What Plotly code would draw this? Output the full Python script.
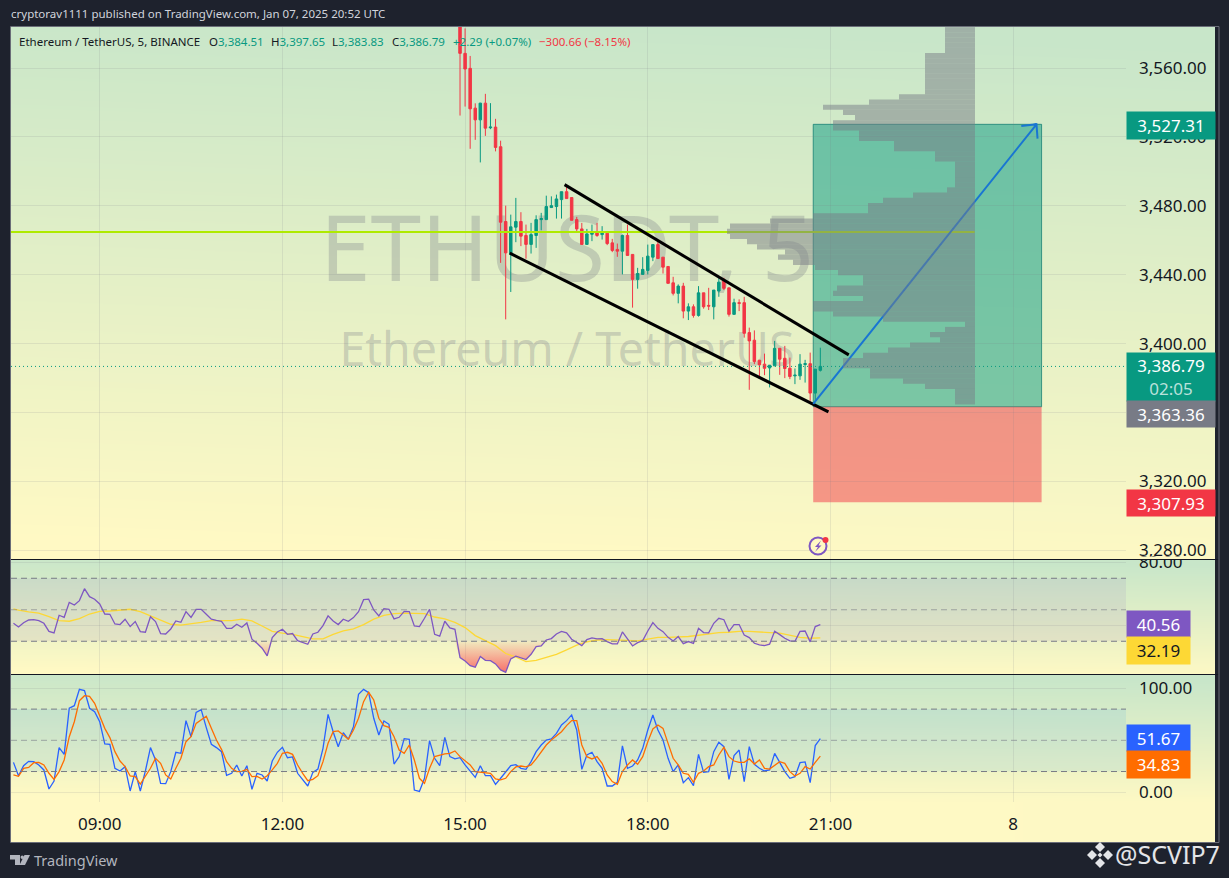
import numpy as np
import pandas as pd
import plotly.graph_objects as go

W, H = 1229, 878
GREEN, RED = "#089981", "#F23645"
FONT = "Noto Sans"

# 5 minute bars, 07:35 to 20:50
times = pd.date_range("2025-01-07 07:35", periods=160, freq="5min")
candle_times = times[88:]

opens = [3590, 3568.5, 3559.8, 3536.7, 3529.9, 3539.6, 3525.3, 3525.7, 3514.3, 3470.9, 3452.1, 3467.6,
         3470.9, 3462.8, 3457.6, 3462.8, 3472, 3472, 3479, 3479.6, 3483.6, 3488.2, 3484.8, 3472,
         3466.6, 3457.6, 3463.5, 3465.1, 3463.3, 3464.1, 3458.5, 3454.7, 3453.7, 3462.8, 3451.8, 3437.3,
         3440.2, 3442.5, 3450.2, 3457.5, 3450.2, 3444.8, 3435.3, 3429.2, 3433.4, 3418.9, 3421.4, 3416.4,
         3429.5, 3422.2, 3421.4, 3430.5, 3436.7, 3432.4, 3417, 3423.8, 3423.8, 3406.4, 3402, 3390.4,
         3388.1, 3385.9, 3387.1, 3397.3, 3391.5, 3385.7, 3381.3, 3381.3, 3387.9, 3388.4, 3371.3, 3384.51]
highs = [3600, 3583, 3567, 3539.5, 3539.8, 3545, 3539.6, 3530.5, 3517.8, 3480.1, 3474.9, 3484.6,
         3476.3, 3469.1, 3470.1, 3474.5, 3475.9, 3485.9, 3485.5, 3486.5, 3488.2, 3491.9, 3484.8, 3473.6,
         3470.1, 3466.6, 3469.1, 3470.1, 3468.2, 3465.1, 3460.8, 3458.1, 3463.3, 3469.1, 3451.8, 3444,
         3450.2, 3457.5, 3457.5, 3459.5, 3450.2, 3444.8, 3438.8, 3434.4, 3435.3, 3423.4, 3422.8, 3433.4,
         3429.5, 3432.4, 3431.1, 3438.2, 3438.2, 3432.4, 3426.1, 3425.7, 3427.2, 3409.3, 3407.7, 3390.4,
         3394.2, 3387.5, 3401.6, 3397.3, 3398.7, 3391.9, 3385.6, 3393.9, 3390.6, 3394.8, 3385.2, 3397.65]
lows = [3532.4, 3537.6, 3513.1, 3518.3, 3505.2, 3520.6, 3524.5, 3511.6, 3446.9, 3414.1, 3430, 3458.9,
        3456.6, 3449.3, 3452.3, 3455.6, 3465.8, 3472, 3479, 3472.6, 3472.6, 3484.2, 3471.6, 3464.7,
        3457.6, 3457.6, 3459.5, 3462, 3460.4, 3457.2, 3453.1, 3450.4, 3440.2, 3451.2, 3420.9, 3431.9,
        3440.2, 3440.2, 3447.9, 3449.4, 3440.7, 3435, 3428, 3423.4, 3414.7, 3413.7, 3415.1, 3415.7,
        3420.3, 3419.5, 3414.1, 3427.2, 3431.1, 3415.7, 3417, 3418.9, 3403.5, 3373.2, 3388.1, 3379.8,
        3381.7, 3374.6, 3387.1, 3381.9, 3380, 3379.4, 3376.5, 3379, 3377.4, 3366.8, 3365.9, 3383.83]
closes = [3568.5, 3559.4, 3536.3, 3529.9, 3539.6, 3525.1, 3525.7, 3513.9, 3470.5, 3452.7, 3467.8, 3470.9,
          3462.4, 3457.6, 3463.3, 3472, 3472.6, 3479.6, 3480.1, 3484, 3488.2, 3484.2, 3471.6, 3466.6,
          3457.6, 3463.7, 3465.1, 3462.8, 3464.1, 3458.1, 3454.1, 3453.7, 3462.8, 3451.2, 3437.3, 3440.7,
          3443.1, 3450.8, 3457.5, 3449.4, 3444.4, 3435, 3429.2, 3433.4, 3418.9, 3421.4, 3416.4, 3429.5,
          3421.4, 3421.8, 3431.1, 3435.7, 3432.1, 3417, 3423.8, 3423.4, 3406, 3401.6, 3389.6, 3387.7,
          3385.7, 3387.5, 3397.3, 3391, 3385.6, 3380.9, 3381.7, 3388.1, 3388.4, 3371.3, 3385.2, 3386.79]

rsi = [41.4, 39.1, 41.8, 43.5, 43.7, 43.1, 41.4, 36.3, 35.3, 46.5, 45.2, 54.7, 53.0, 55.8, 63.4, 58.3,
       56.7, 53.7, 47.3, 47.1, 41.0, 40.6, 44.0, 39.3, 42.5, 36.1, 35.7, 45.6, 42.5, 34.9, 34.6, 37.8,
       42.9, 42.0, 48.8, 45.2, 50.3, 50.3, 47.1, 44.0, 43.3, 42.7, 38.2, 38.2, 40.8, 38.9, 41.6, 31.3,
       28.7, 25.6, 20.7, 32.3, 35.9, 37.6, 34.4, 34.9, 30.4, 29.1, 28.1, 34.6, 35.7, 39.9, 46.1, 42.9,
       40.6, 44.0, 42.7, 45.0, 48.8, 56.4, 56.7, 49.9, 46.1, 50.7, 50.3, 44.2, 45.2, 49.0, 48.8, 39.7,
       39.3, 44.6, 50.3, 34.4, 33.2, 42.7, 38.5, 37.6, 19.6, 17.5, 14.5, 13.5, 20.3, 17.9, 17.7, 15.6,
       11.8, 10.3, 18.8, 20.5, 19.4, 18.4, 21.7, 26.6, 27.0, 30.8, 31.7, 34.6, 36.3, 35.3, 31.3, 29.4,
       27.2, 31.0, 32.1, 31.5, 31.7, 29.8, 28.3, 28.3, 35.9, 31.5, 27.0, 29.1, 30.4, 36.5, 41.8, 38.2,
       36.1, 32.5, 30.2, 33.0, 28.5, 29.8, 28.7, 38.2, 35.5, 35.3, 41.4, 44.6, 43.7, 36.3, 40.6, 40.6,
       34.0, 32.3, 28.7, 27.7, 27.2, 28.1, 36.3, 34.2, 31.9, 30.2, 30.0, 36.3, 36.5, 29.6, 39.3, 40.56]

# RSI average, read every second bar
rsi_ma = [50.5, 49.7, 48.6, 47.8, 45.6, 43.1, 42.7, 44.4, 47.3, 49.0, 49.2, 49.9, 50.3, 48.8, 46.3, 43.3,
          40.8, 40.2, 41.0, 42.0, 43.1, 43.1, 43.1, 44.0, 42.9, 39.7, 36.3, 35.1, 34.4, 33.0, 31.5, 31.5,
          34.4, 36.6, 37.8, 40.6, 44.0, 46.5, 47.6, 47.8, 47.8, 47.6, 45.4, 44.2, 42.0, 38.7, 33.6, 30.2,
          27.2, 22.2, 20.0, 17.1, 17.9, 19.8, 21.7, 24.5, 27.5, 29.6, 30.8, 31.0, 31.0, 30.6, 30.2, 31.5,
          32.5, 32.5, 32.7, 33.0, 33.8, 34.6, 35.5, 35.7, 36.3, 36.3, 36.1, 35.5, 35.1, 33.6, 32.5, 31.9, 32.19]

stoch_k = [28.8, 16.0, 25.6, 29.8, 29.5, 26.3, 21.5, 3.2, 10.9, 43.0, 36.5, 80.8, 83.3, 99.0, 97.8, 80.8,
           77.6, 67.9, 46.5, 46.2, 23.1, 20.5, 24.7, 1.3, 19.9, 1.3, 20.5, 43.0, 31.1, 8.6, 8.3, 19.9,
           38.5, 37.5, 68.9, 53.5, 76.9, 79.5, 62.2, 46.2, 43.0, 39.1, 16.3, 18.3, 26.3, 15.7, 25.6, 2.9,
           18.3, 16.7, 10.9, 30.1, 38.5, 43.3, 33.3, 34.0, 18.3, 11.9, 6.1, 19.2, 22.4, 42.3, 75.0, 58.3,
           43.9, 57.4, 51.0, 63.1, 94.2, 99.0, 95.8, 71.2, 55.1, 68.6, 65.4, 27.2, 34.3, 51.6, 51.0, 2.2,
           0.9, 13.5, 49.7, 32.7, 25.6, 52.9, 34.3, 32.1, 33.3, 26.3, 19.9, 14.4, 25.6, 16.0, 16.0, 7.7,
           13.5, 19.2, 25.6, 26.6, 23.1, 22.1, 29.5, 39.1, 45.5, 50.3, 51.3, 56.7, 64.7, 68.9, 74.4, 59.9,
           22.1, 35.9, 38.5, 29.5, 23.1, 6.1, 6.1, 9.6, 44.6, 23.1, 25.3, 31.1, 42.3, 59.9, 74.4, 59.9,
           50.3, 32.7, 19.9, 26.3, 9.3, 14.1, 6.4, 36.5, 19.2, 19.9, 39.1, 48.1, 43.9, 12.5, 35.3, 40.7,
           10.3, 43.9, 26.9, 23.1, 20.5, 21.5, 37.5, 28.8, 19.9, 13.5, 15.1, 28.5, 29.2, 9.3, 44.9, 51.67]
stoch_d = [16.7, 15.4, 23.1, 24.0, 28.5, 28.8, 26.3, 18.3, 12.5, 19.9, 31.1, 53.5, 67.9, 88.1, 92.9, 92.3,
           85.6, 74.4, 61.5, 52.6, 39.1, 30.1, 24.7, 15.7, 15.1, 8.0, 15.1, 23.1, 32.7, 27.9, 16.7, 12.8,
           23.1, 32.7, 48.7, 53.5, 66.3, 69.5, 73.1, 61.5, 50.3, 41.3, 29.5, 23.1, 19.9, 20.2, 22.1, 15.1,
           15.4, 12.8, 16.0, 21.5, 27.9, 37.5, 38.5, 36.5, 26.3, 18.3, 11.2, 12.5, 16.0, 29.5, 47.1, 58.3,
           59.0, 55.1, 51.0, 59.9, 71.2, 87.2, 96.2, 88.8, 71.2, 64.1, 62.5, 53.5, 40.7, 37.5, 45.5, 31.1,
           13.5, 8.6, 23.1, 34.3, 35.9, 36.9, 37.5, 39.8, 34.3, 30.1, 26.3, 19.9, 19.2, 18.9, 18.3, 12.8,
           11.9, 13.5, 19.9, 24.4, 25.3, 24.4, 26.3, 32.1, 39.1, 45.5, 50.3, 54.2, 58.3, 64.1, 68.9, 68.9,
           45.5, 34.3, 32.1, 34.3, 27.9, 16.7, 10.3, 7.7, 19.9, 26.3, 31.1, 26.9, 34.3, 48.7, 60.9, 64.7,
           61.5, 47.1, 32.7, 26.3, 18.3, 17.3, 9.6, 18.3, 20.5, 24.7, 26.3, 35.9, 43.3, 34.3, 30.1, 28.8,
           28.8, 32.1, 27.2, 31.1, 23.1, 22.4, 26.3, 29.5, 27.9, 19.9, 15.7, 18.3, 24.7, 22.4, 28.8, 34.83]

# volume profile, 3 point rows from the top of the pane down
profile_prices = [3582.2 - 3 * i for i in range(73)]
profile_volume = [30, 30, 30, 30, 30, 50, 50, 50, 50, 50, 50, 50, 50, 76, 106, 152, 132, 120, 142, 142,
                  116, 116, 81, 81, 40, 40, 20, 20, 20, 20, 20, 28, 62, 92, 107, 107, 162, 205, 245, 248,
                  245, 228, 218, 190, 197, 182, 160, 137, 112, 112, 138, 142, 112, 162, 162, 142, 92, 10, 30, 45,
                  35, 65, 87, 112, 132, 132, 105, 105, 72, 50, 20, 20, 20]

TARGET, ENTRY, STOP = 3527.31, 3363.36, 3307.93
LAST = 3386.79
LEVEL = 3464.8
POS_START, POS_END = "2025-01-07 20:43", "2025-01-08 00:28"
upper_x, upper_y = ["2025-01-07 16:38", "2025-01-07 21:18"], [3492.3, 3393.5]
lower_x, lower_y = ["2025-01-07 15:44", "2025-01-07 20:58"], [3452.5, 3360.4]
arrow_x = ["2025-01-07 20:43", "2025-01-08 00:23", "2025-01-08 00:08", "2025-01-08 00:23", "2025-01-08 00:24"]
arrow_y = [3365, TARGET, 3526.3, TARGET, 3519]
XSTART, XEND = "2025-01-07 07:32:36", "2025-01-08 01:51:10"
LEVEL_END = "2025-01-07 23:22"

price_ticks = list(range(3280, 3561, 40))
time_ticks = ["2025-01-07 09:00", "2025-01-07 12:00", "2025-01-07 15:00", "2025-01-07 18:00", "2025-01-07 21:00", "2025-01-08 00:00"]
time_labels = ["09:00", "12:00", "15:00", "18:00", "21:00", "8"]


def px(x):
    return x / W


def py(y):
    return 1 - y / H


def path(points):
    return "M " + " L ".join(f"{px(x):.5f} {py(y):.5f}" for x, y in points) + " Z"


# page background, one gradient per pane
bg_x = np.arange(11, 1219, 8)
bg_y = np.arange(27, 843)
rows = np.concatenate([
    np.linspace(0, 1, 533),
    np.linspace(0, 1, 115),
    np.linspace(0, 1, 128),
    np.ones(40),
])
bg_z = np.clip(rows[:, None] - 0.08 * (bg_x[None, :] - 11) / 1207 + 0.04, 0, 1)

fig = go.Figure()
fig.add_trace(go.Heatmap(x=bg_x, y=bg_y, z=bg_z, zmin=0, zmax=1, showscale=False, hoverinfo="skip",
                         colorscale=[[0, "#C8E6C9"], [1, "#FFF9C4"]]))
fig.add_trace(go.Scatter(x=[567, 567], y=[258, 354], mode="text", text=["ETHUSDT, 5", "Ethereum / TetherUS"],
                         textfont=dict(family=FONT, size=[91, 46.5], color="rgba(120,123,134,0.3)"),
                         hoverinfo="skip"))

# price pane
fig.add_trace(go.Candlestick(x=candle_times, open=opens, high=highs, low=lows, close=closes,
                             xaxis="x2", yaxis="y2", whiskerwidth=0, hoverinfo="skip",
                             increasing=dict(line=dict(color=GREEN, width=1), fillcolor=GREEN),
                             decreasing=dict(line=dict(color=RED, width=1), fillcolor=RED)))
fig.add_trace(go.Scatter(x=[XSTART, XEND], y=[LAST, LAST], xaxis="x2", yaxis="y2", mode="lines",
                         line=dict(color=GREEN, width=1, dash="1px,3px"), hoverinfo="skip"))
fig.add_trace(go.Scatter(x=[XSTART, LEVEL_END], y=[LEVEL, LEVEL], xaxis="x2", yaxis="y2", mode="lines",
                         line=dict(color="#AEEA00", width=2), hoverinfo="skip"))
for xs, ys in [(upper_x, upper_y), (lower_x, lower_y)]:
    fig.add_trace(go.Scatter(x=xs, y=ys, xaxis="x2", yaxis="y2", mode="lines",
                             line=dict(color="#000000", width=3), hoverinfo="skip"))
fig.add_trace(go.Scatter(x=arrow_x, y=arrow_y, xaxis="x2", yaxis="y2", mode="lines",
                         line=dict(color="#1976D2", width=2), hoverinfo="skip"))
fig.add_trace(go.Bar(y=profile_prices, x=profile_volume, xaxis="x5", yaxis="y2", orientation="h", width=3,
                     marker=dict(color="rgba(120,123,134,0.5)", line=dict(width=0)), hoverinfo="skip"))

# RSI pane
fig.add_trace(go.Scatter(x=times, y=[30] * len(rsi), xaxis="x3", yaxis="y3", mode="lines",
                         line=dict(width=0), hoverinfo="skip"))
fig.add_trace(go.Scatter(x=times, y=np.minimum(rsi, 30), xaxis="x3", yaxis="y3", mode="lines",
                         line=dict(width=0), fill="tonexty", hoverinfo="skip",
                         fillgradient=dict(type="vertical", colorscale=[[0, "rgba(242,54,69,0.7)"], [1, "rgba(242,54,69,0.05)"]])))
fig.add_trace(go.Scatter(x=[times[0]] + list(times[1::2]), y=rsi_ma, xaxis="x3", yaxis="y3", mode="lines",
                         line=dict(color="#FDD835", width=1.3), hoverinfo="skip"))
fig.add_trace(go.Scatter(x=times, y=rsi, xaxis="x3", yaxis="y3", mode="lines",
                         line=dict(color="#7E57C2", width=1.3), hoverinfo="skip"))

# stochastic pane
fig.add_trace(go.Scatter(x=times, y=stoch_k, xaxis="x4", yaxis="y4", mode="lines",
                         line=dict(color="#2962FF", width=1.3), hoverinfo="skip"))
fig.add_trace(go.Scatter(x=times, y=stoch_d, xaxis="x4", yaxis="y4", mode="lines",
                         line=dict(color="#FF6D00", width=1.3), hoverinfo="skip"))

shapes = [
    dict(type="rect", xref="x2", yref="y2", x0=POS_START, x1=POS_END, y0=ENTRY, y1=TARGET, layer="below",
         fillcolor="rgba(8,153,129,0.5)", line=dict(color="rgba(8,120,110,0.7)", width=1)),
    dict(type="rect", xref="x2", yref="y2", x0=POS_START, x1=POS_END, y0=STOP, y1=ENTRY, layer="below",
         fillcolor="rgba(242,54,69,0.5)", line=dict(width=0)),
    dict(type="rect", xref="x3", yref="y3", x0=XSTART, x1=XEND, y0=30, y1=70, layer="below",
         fillcolor="rgba(126,87,194,0.1)", line=dict(width=0)),
    dict(type="rect", xref="x4", yref="y4", x0=XSTART, x1=XEND, y0=20, y1=80, layer="below",
         fillcolor="rgba(33,150,243,0.1)", line=dict(width=0)),
    # top half of the 80.00 label sits under the price pane
    dict(type="rect", xref="paper", yref="paper", x0=px(1130), x1=px(1205), y0=py(559.5), y1=py(556.4),
         fillcolor="#FFF9C4", line=dict(width=0)),
    dict(type="line", xref="paper", yref="paper", x0=px(10), x1=px(1219), y0=py(559.5), y1=py(559.5),
         line=dict(color="#131722", width=1)),
    dict(type="line", xref="paper", yref="paper", x0=px(10), x1=px(1219), y0=py(674.5), y1=py(674.5),
         line=dict(color="#131722", width=1)),
    dict(type="rect", xref="paper", yref="paper", x0=px(10.5), x1=px(1219), y0=py(842.5), y1=py(26.5),
         line=dict(color="#6A6D78", width=1)),
]
for axis, levels in [("3", [(70, 1), (50, 0.6), (30, 1)]), ("4", [(80, 1), (50, 0.6), (20, 1)])]:
    for level, alpha in levels:
        shapes.append(dict(type="line", xref="x" + axis, yref="y" + axis, x0=XSTART, x1=XEND, y0=level, y1=level,
                           opacity=alpha, line=dict(color="#787B86", width=1, dash="6px,4px")))

# replay icon under the last bar
shapes.append(dict(type="circle", xref="paper", yref="paper", x0=px(809.5), x1=px(826.5), y0=py(554.5), y1=py(537.5),
                   fillcolor="#FFF9C4", line=dict(color="#7E57C2", width=2)))
shapes.append(dict(type="path", xref="paper", yref="paper", fillcolor="#7E57C2", line=dict(width=0),
                   path=path([(821, 540.5), (815, 547), (818, 547), (815, 552), (821.5, 545.5), (818.5, 545.5)])))
shapes.append(dict(type="circle", xref="paper", yref="paper", x0=px(822.5), x1=px(828.5), y0=py(543), y1=py(537),
                   fillcolor=RED, line=dict(width=0)))

# TradingView mark
tv = "#B2B5BE"
shapes.append(dict(type="path", xref="paper", yref="paper", fillcolor=tv, line=dict(width=0),
                   path=path([(10, 855), (20, 855), (20, 865), (15, 865), (15, 859.5), (10, 859.5)])))
shapes.append(dict(type="circle", xref="paper", yref="paper", x0=px(20.5), x1=px(24), y0=py(859), y1=py(855.5),
                   fillcolor=tv, line=dict(width=0)))
shapes.append(dict(type="path", xref="paper", yref="paper", fillcolor=tv, line=dict(width=0),
                   path=path([(24.5, 855), (30, 855), (25, 865), (19.5, 865)])))

# watermark logo
mark = "#E4E5E8"
for cx, cy, r in [(1100, 847, 5), (1092, 855, 5), (1108, 855, 5), (1100, 863, 5), (1100, 855, 2.5)]:
    shapes.append(dict(type="path", xref="paper", yref="paper", fillcolor=mark, line=dict(width=0),
                       path=path([(cx, cy - r), (cx + r, cy), (cx, cy + r), (cx - r, cy)])))


def paper_text(x, y, text, size, color, xanchor="left", family=FONT):
    return dict(xref="paper", yref="paper", x=px(x), y=py(y), text=text, showarrow=False, xanchor=xanchor,
                yanchor="middle", font=dict(family=family, size=size, color=color), borderpad=0)


def badge(text, color, top, bottom, right=1214, font_color="#FFFFFF"):
    return dict(xref="paper", yref="paper", x=px(1126), y=py((top + bottom) / 2), text=text, showarrow=False,
                xanchor="left", yanchor="middle", width=right - 1126, height=bottom - top, bgcolor=color,
                align="center", valign="middle", borderpad=0, font=dict(family=FONT, size=17, color=font_color))


annotations = [
    paper_text(10, 14, "cryptorav1111 published on TradingView.com, Jan 07, 2025 20:52 UTC", 11.5, "#D1D4DC"),
    paper_text(18, 41, "Ethereum / TetherUS, 5, BINANCE", 11.5, "#131722"),
    paper_text(208, 41, f"O<span style='color:{GREEN}'>3,384.51</span>", 11.5, "#131722"),
    paper_text(270, 41, f"H<span style='color:{GREEN}'>3,397.65</span>", 11.5, "#131722"),
    paper_text(331, 41, f"L<span style='color:{GREEN}'>3,383.83</span>", 11.5, "#131722"),
    paper_text(391, 41, f"C<span style='color:{GREEN}'>3,386.79</span>", 11.5, "#131722"),
    paper_text(452, 41, "+2.29 (+0.07%)", 11.5, GREEN),
    paper_text(538, 41, "−300.66 (−8.15%)", 11.5, RED),
    badge("3,527.31", GREEN, 112, 139),
    badge("3,386.79<br><span style='color:rgba(255,255,255,0.72)'>02:05</span>", GREEN, 353, 401),
    badge("3,363.36", "#787B86", 401, 427),
    badge("3,307.93", RED, 490, 516),
    badge("40.56", "#7E57C2", 611, 637, right=1189),
    badge("32.19", "#FDD835", 637, 664, right=1189, font_color="#131722"),
    badge("51.67", "#2962FF", 725, 751, right=1189),
    badge("34.83", "#FF6D00", 751, 778, right=1189),
    paper_text(33, 860, "TradingView", 14.5, tv),
    paper_text(1221, 854, "@SCVIP7", 25, "#E4E5E8", xanchor="right"),
]

grid = "rgba(120,123,134,0.14)"
time_axis = dict(type="date", range=[XSTART, XEND], domain=[px(11), px(1126)], tickvals=time_ticks, ticktext=time_labels,
                 showgrid=True, gridcolor=grid, gridwidth=1, zeroline=False, ticks="", showline=False)
value_axis = dict(domain=[0, 1], side="right", showgrid=True, gridcolor=grid, gridwidth=1, zeroline=False, ticks="",
                  showline=False, ticklabelstandoff=12, tickfont=dict(family=FONT, size=17, color="#131722"))

fig.update_layout(
    width=W, height=H, margin=dict(l=0, r=0, t=0, b=0, pad=0, autoexpand=False), autosize=False,
    paper_bgcolor="#1E222D", plot_bgcolor="rgba(0,0,0,0)", showlegend=False, hovermode=False,
    xaxis=dict(visible=False, domain=[px(11), px(1218)], range=[11, 1218]),
    yaxis=dict(visible=False, domain=[py(842), py(27)], range=[842, 27]),
    xaxis2={**time_axis, "anchor": "y2", "showticklabels": False, "rangeslider": dict(visible=False)},
    xaxis3={**time_axis, "anchor": "y3", "showticklabels": False},
    xaxis4={**time_axis, "anchor": "y4", "ticklabelstandoff": 10,
            "tickfont": dict(family=FONT, size=17, color="#131722")},
    # profile rows grow to the left from a fixed right edge
    xaxis5=dict(overlaying="x2", visible=False, range=[964, -151], anchor="y2"),
    yaxis2={**value_axis, "anchor": "x2", "domain": [py(559), py(27)], "range": [3275, 3583.8],
            "tickvals": price_ticks, "tickformat": ",.2f"},
    yaxis3={**value_axis, "anchor": "x3", "domain": [py(674), py(560)], "range": [9.2, 81.6],
            "tickvals": [40, 80], "ticktext": ["", "80.00"]},
    yaxis4={**value_axis, "anchor": "x4", "domain": [py(802), py(675)], "range": [-9.3, 112.8],
            "tickvals": [0, 100], "tickformat": ".2f"},
    shapes=shapes, annotations=annotations,
)

fig.write_html("out.html", config=dict(displayModeBar=False),
               post_script="document.body.style.margin='0';document.documentElement.style.overflow='hidden';")
